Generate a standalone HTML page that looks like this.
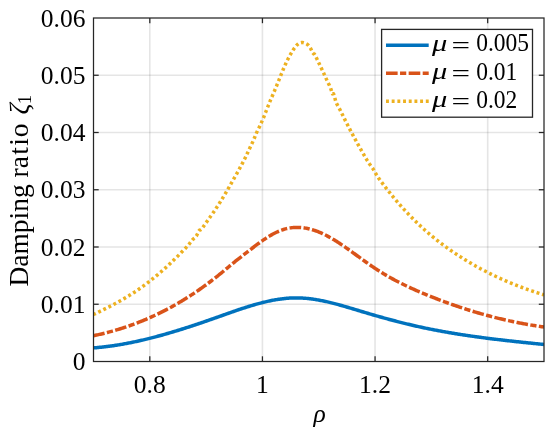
<!DOCTYPE html>
<html><head><meta charset="utf-8"><title>Damping ratio</title>
<style>
html,body{margin:0;padding:0;background:#fff;width:550px;height:433px;overflow:hidden}
svg{display:block}
.tk{font-family:"Liberation Serif",serif;font-size:25.5px;fill:#000}
</style></head><body>
<svg width="550" height="433" viewBox="0 0 550 433">
<rect width="550" height="433" fill="#fff"/>
<defs><clipPath id="ax"><rect x="93.50" y="18.00" width="450.50" height="343.50"/></clipPath></defs>
<g stroke="#262626" stroke-opacity="0.12" stroke-width="1.6" fill="none">
<line x1="149.81" y1="18.00" x2="149.81" y2="361.50"/>
<line x1="262.44" y1="18.00" x2="262.44" y2="361.50"/>
<line x1="375.06" y1="18.00" x2="375.06" y2="361.50"/>
<line x1="487.69" y1="18.00" x2="487.69" y2="361.50"/>
<line x1="93.50" y1="304.25" x2="544.00" y2="304.25"/>
<line x1="93.50" y1="247.00" x2="544.00" y2="247.00"/>
<line x1="93.50" y1="189.75" x2="544.00" y2="189.75"/>
<line x1="93.50" y1="132.50" x2="544.00" y2="132.50"/>
<line x1="93.50" y1="75.25" x2="544.00" y2="75.25"/>
</g>
<g clip-path="url(#ax)" fill="none" stroke-width="3.5" stroke-linejoin="round">
<path stroke="#0072BD" d="M93.50,347.88 L94.50,347.80 L95.50,347.72 L96.50,347.64 L97.50,347.55 L98.50,347.46 L99.50,347.36 L100.50,347.26 L101.50,347.16 L102.50,347.05 L103.50,346.94 L104.50,346.83 L105.50,346.71 L106.50,346.59 L107.50,346.47 L108.50,346.34 L109.50,346.21 L110.50,346.07 L111.50,345.93 L112.50,345.79 L113.50,345.65 L114.50,345.50 L115.50,345.35 L116.50,345.19 L117.50,345.03 L118.50,344.87 L119.50,344.71 L120.50,344.54 L121.50,344.37 L122.50,344.19 L123.50,344.02 L124.50,343.84 L125.50,343.65 L126.50,343.47 L127.50,343.28 L128.50,343.08 L129.50,342.89 L130.50,342.69 L131.50,342.49 L132.50,342.28 L133.50,342.08 L134.50,341.87 L135.50,341.65 L136.50,341.44 L137.50,341.22 L138.50,341.00 L139.50,340.77 L140.50,340.55 L141.50,340.32 L142.50,340.09 L143.50,339.85 L144.50,339.62 L145.50,339.38 L146.50,339.13 L147.50,338.89 L148.50,338.64 L149.50,338.39 L150.50,338.14 L151.50,337.89 L152.50,337.63 L153.50,337.37 L154.50,337.11 L155.50,336.85 L156.50,336.58 L157.50,336.31 L158.50,336.04 L159.50,335.77 L160.50,335.50 L161.50,335.22 L162.50,334.94 L163.50,334.66 L164.50,334.38 L165.50,334.09 L166.50,333.81 L167.50,333.52 L168.50,333.23 L169.50,332.93 L170.50,332.64 L171.50,332.34 L172.50,332.05 L173.50,331.75 L174.50,331.44 L175.50,331.14 L176.50,330.83 L177.50,330.53 L178.50,330.22 L179.50,329.91 L180.50,329.60 L181.50,329.28 L182.50,328.97 L183.50,328.65 L184.50,328.33 L185.50,328.01 L186.50,327.69 L187.50,327.37 L188.50,327.05 L189.50,326.72 L190.50,326.39 L191.50,326.07 L192.50,325.74 L193.50,325.41 L194.50,325.07 L195.50,324.74 L196.50,324.41 L197.50,324.07 L198.50,323.73 L199.50,323.40 L200.50,323.06 L201.50,322.72 L202.50,322.38 L203.50,322.03 L204.50,321.69 L205.50,321.35 L206.50,321.00 L207.50,320.66 L208.50,320.31 L209.50,319.96 L210.50,319.61 L211.50,319.26 L212.50,318.91 L213.50,318.56 L214.50,318.21 L215.50,317.86 L216.50,317.51 L217.50,317.15 L218.50,316.80 L219.50,316.44 L220.50,316.09 L221.50,315.73 L222.50,315.38 L223.50,315.02 L224.50,314.67 L225.50,314.31 L226.50,313.96 L227.50,313.60 L228.50,313.25 L229.50,312.90 L230.50,312.55 L231.50,312.20 L232.50,311.85 L233.50,311.50 L234.50,311.15 L235.50,310.81 L236.50,310.46 L237.50,310.12 L238.50,309.78 L239.50,309.45 L240.50,309.11 L241.50,308.78 L242.50,308.45 L243.50,308.12 L244.50,307.80 L245.50,307.47 L246.50,307.16 L247.50,306.84 L248.50,306.53 L249.50,306.22 L250.50,305.91 L251.50,305.61 L252.50,305.31 L253.50,305.02 L254.50,304.73 L255.50,304.44 L256.50,304.16 L257.50,303.88 L258.50,303.61 L259.50,303.34 L260.50,303.08 L261.50,302.82 L262.50,302.57 L263.50,302.32 L264.50,302.08 L265.50,301.84 L266.50,301.61 L267.50,301.38 L268.50,301.16 L269.50,300.95 L270.50,300.74 L271.50,300.54 L272.50,300.34 L273.50,300.15 L274.50,299.97 L275.50,299.80 L276.50,299.63 L277.50,299.47 L278.50,299.31 L279.50,299.16 L280.50,299.02 L281.50,298.89 L282.50,298.77 L283.50,298.65 L284.50,298.54 L285.50,298.44 L286.50,298.35 L287.50,298.26 L288.50,298.19 L289.50,298.12 L290.50,298.06 L291.50,298.01 L292.50,297.97 L293.50,297.94 L294.50,297.92 L295.50,297.91 L296.50,297.90 L297.50,297.91 L298.50,297.93 L299.50,297.95 L300.50,297.99 L301.50,298.03 L302.50,298.08 L303.50,298.15 L304.50,298.22 L305.50,298.30 L306.50,298.38 L307.50,298.48 L308.50,298.58 L309.50,298.70 L310.50,298.82 L311.50,298.94 L312.50,299.08 L313.50,299.22 L314.50,299.37 L315.50,299.53 L316.50,299.69 L317.50,299.86 L318.50,300.04 L319.50,300.22 L320.50,300.41 L321.50,300.60 L322.50,300.81 L323.50,301.01 L324.50,301.22 L325.50,301.44 L326.50,301.66 L327.50,301.89 L328.50,302.12 L329.50,302.36 L330.50,302.60 L331.50,302.85 L332.50,303.10 L333.50,303.35 L334.50,303.61 L335.50,303.87 L336.50,304.14 L337.50,304.41 L338.50,304.68 L339.50,304.95 L340.50,305.23 L341.50,305.51 L342.50,305.80 L343.50,306.08 L344.50,306.37 L345.50,306.66 L346.50,306.95 L347.50,307.24 L348.50,307.54 L349.50,307.84 L350.50,308.13 L351.50,308.43 L352.50,308.73 L353.50,309.03 L354.50,309.33 L355.50,309.64 L356.50,309.94 L357.50,310.24 L358.50,310.54 L359.50,310.84 L360.50,311.15 L361.50,311.45 L362.50,311.75 L363.50,312.05 L364.50,312.35 L365.50,312.64 L366.50,312.94 L367.50,313.24 L368.50,313.53 L369.50,313.83 L370.50,314.12 L371.50,314.41 L372.50,314.70 L373.50,314.99 L374.50,315.28 L375.50,315.57 L376.50,315.85 L377.50,316.14 L378.50,316.42 L379.50,316.71 L380.50,316.99 L381.50,317.27 L382.50,317.55 L383.50,317.83 L384.50,318.10 L385.50,318.38 L386.50,318.66 L387.50,318.93 L388.50,319.20 L389.50,319.47 L390.50,319.74 L391.50,320.01 L392.50,320.27 L393.50,320.54 L394.50,320.80 L395.50,321.06 L396.50,321.32 L397.50,321.58 L398.50,321.84 L399.50,322.09 L400.50,322.35 L401.50,322.60 L402.50,322.85 L403.50,323.10 L404.50,323.35 L405.50,323.59 L406.50,323.84 L407.50,324.08 L408.50,324.32 L409.50,324.56 L410.50,324.80 L411.50,325.03 L412.50,325.26 L413.50,325.50 L414.50,325.73 L415.50,325.95 L416.50,326.18 L417.50,326.40 L418.50,326.63 L419.50,326.85 L420.50,327.06 L421.50,327.28 L422.50,327.50 L423.50,327.71 L424.50,327.92 L425.50,328.13 L426.50,328.34 L427.50,328.54 L428.50,328.75 L429.50,328.95 L430.50,329.15 L431.50,329.35 L432.50,329.55 L433.50,329.74 L434.50,329.94 L435.50,330.13 L436.50,330.32 L437.50,330.51 L438.50,330.70 L439.50,330.89 L440.50,331.07 L441.50,331.25 L442.50,331.44 L443.50,331.62 L444.50,331.80 L445.50,331.97 L446.50,332.15 L447.50,332.32 L448.50,332.50 L449.50,332.67 L450.50,332.84 L451.50,333.01 L452.50,333.17 L453.50,333.34 L454.50,333.50 L455.50,333.67 L456.50,333.83 L457.50,333.99 L458.50,334.15 L459.50,334.31 L460.50,334.46 L461.50,334.62 L462.50,334.77 L463.50,334.93 L464.50,335.08 L465.50,335.23 L466.50,335.38 L467.50,335.53 L468.50,335.67 L469.50,335.82 L470.50,335.96 L471.50,336.11 L472.50,336.25 L473.50,336.39 L474.50,336.53 L475.50,336.67 L476.50,336.81 L477.50,336.95 L478.50,337.08 L479.50,337.22 L480.50,337.35 L481.50,337.49 L482.50,337.62 L483.50,337.75 L484.50,337.88 L485.50,338.01 L486.50,338.14 L487.50,338.27 L488.50,338.39 L489.50,338.52 L490.50,338.64 L491.50,338.77 L492.50,338.89 L493.50,339.01 L494.50,339.14 L495.50,339.26 L496.50,339.38 L497.50,339.50 L498.50,339.62 L499.50,339.73 L500.50,339.85 L501.50,339.97 L502.50,340.08 L503.50,340.20 L504.50,340.31 L505.50,340.43 L506.50,340.54 L507.50,340.65 L508.50,340.77 L509.50,340.88 L510.50,340.99 L511.50,341.10 L512.50,341.21 L513.50,341.32 L514.50,341.43 L515.50,341.54 L516.50,341.65 L517.50,341.75 L518.50,341.86 L519.50,341.97 L520.50,342.07 L521.50,342.18 L522.50,342.28 L523.50,342.39 L524.50,342.49 L525.50,342.60 L526.50,342.70 L527.50,342.80 L528.50,342.91 L529.50,343.01 L530.50,343.11 L531.50,343.22 L532.50,343.32 L533.50,343.42 L534.50,343.52 L535.50,343.62 L536.50,343.72 L537.50,343.83 L538.50,343.93 L539.50,344.03 L540.50,344.13 L541.50,344.23 L542.50,344.33 L543.50,344.43 L544.00,344.48"/>
<path stroke="#D95319" stroke-dasharray="11.63 2.41 6.21 2.41" stroke-dashoffset="0.28" d="M93.50,335.71 L94.50,335.50 L95.50,335.29 L96.50,335.07 L97.50,334.85 L98.50,334.63 L99.50,334.40 L100.50,334.17 L101.50,333.94 L102.50,333.70 L103.50,333.46 L104.50,333.21 L105.50,332.96 L106.50,332.71 L107.50,332.45 L108.50,332.18 L109.50,331.92 L110.50,331.65 L111.50,331.37 L112.50,331.10 L113.50,330.81 L114.50,330.53 L115.50,330.24 L116.50,329.94 L117.50,329.64 L118.50,329.34 L119.50,329.03 L120.50,328.72 L121.50,328.40 L122.50,328.09 L123.50,327.76 L124.50,327.43 L125.50,327.10 L126.50,326.76 L127.50,326.42 L128.50,326.08 L129.50,325.73 L130.50,325.37 L131.50,325.01 L132.50,324.65 L133.50,324.28 L134.50,323.91 L135.50,323.54 L136.50,323.16 L137.50,322.77 L138.50,322.38 L139.50,321.99 L140.50,321.59 L141.50,321.19 L142.50,320.78 L143.50,320.37 L144.50,319.95 L145.50,319.53 L146.50,319.10 L147.50,318.67 L148.50,318.24 L149.50,317.80 L150.50,317.35 L151.50,316.90 L152.50,316.45 L153.50,315.99 L154.50,315.53 L155.50,315.06 L156.50,314.59 L157.50,314.11 L158.50,313.63 L159.50,313.14 L160.50,312.65 L161.50,312.15 L162.50,311.65 L163.50,311.14 L164.50,310.63 L165.50,310.11 L166.50,309.59 L167.50,309.07 L168.50,308.54 L169.50,308.00 L170.50,307.46 L171.50,306.91 L172.50,306.36 L173.50,305.80 L174.50,305.24 L175.50,304.67 L176.50,304.10 L177.50,303.53 L178.50,302.94 L179.50,302.36 L180.50,301.76 L181.50,301.17 L182.50,300.56 L183.50,299.96 L184.50,299.34 L185.50,298.72 L186.50,298.10 L187.50,297.47 L188.50,296.84 L189.50,296.20 L190.50,295.55 L191.50,294.90 L192.50,294.25 L193.50,293.58 L194.50,292.92 L195.50,292.25 L196.50,291.57 L197.50,290.89 L198.50,290.20 L199.50,289.50 L200.50,288.80 L201.50,288.10 L202.50,287.39 L203.50,286.67 L204.50,285.95 L205.50,285.22 L206.50,284.49 L207.50,283.75 L208.50,283.01 L209.50,282.26 L210.50,281.50 L211.50,280.74 L212.50,279.98 L213.50,279.20 L214.50,278.43 L215.50,277.64 L216.50,276.85 L217.50,276.06 L218.50,275.25 L219.50,274.45 L220.50,273.63 L221.50,272.82 L222.50,271.99 L223.50,271.16 L224.50,270.33 L225.50,269.49 L226.50,268.65 L227.50,267.81 L228.50,266.97 L229.50,266.13 L230.50,265.30 L231.50,264.47 L232.50,263.65 L233.50,262.84 L234.50,262.03 L235.50,261.23 L236.50,260.44 L237.50,259.65 L238.50,258.87 L239.50,258.09 L240.50,257.31 L241.50,256.53 L242.50,255.76 L243.50,254.98 L244.50,254.21 L245.50,253.43 L246.50,252.66 L247.50,251.88 L248.50,251.10 L249.50,250.32 L250.50,249.55 L251.50,248.77 L252.50,248.00 L253.50,247.24 L254.50,246.47 L255.50,245.72 L256.50,244.97 L257.50,244.22 L258.50,243.48 L259.50,242.75 L260.50,242.03 L261.50,241.32 L262.50,240.62 L263.50,239.93 L264.50,239.25 L265.50,238.58 L266.50,237.93 L267.50,237.29 L268.50,236.66 L269.50,236.05 L270.50,235.45 L271.50,234.87 L272.50,234.31 L273.50,233.77 L274.50,233.24 L275.50,232.74 L276.50,232.25 L277.50,231.79 L278.50,231.34 L279.50,230.92 L280.50,230.52 L281.50,230.15 L282.50,229.80 L283.50,229.47 L284.50,229.17 L285.50,228.89 L286.50,228.64 L287.50,228.41 L288.50,228.21 L289.50,228.02 L290.50,227.87 L291.50,227.73 L292.50,227.62 L293.50,227.53 L294.50,227.46 L295.50,227.41 L296.50,227.39 L297.50,227.39 L298.50,227.41 L299.50,227.45 L300.50,227.51 L301.50,227.59 L302.50,227.69 L303.50,227.81 L304.50,227.95 L305.50,228.11 L306.50,228.29 L307.50,228.49 L308.50,228.71 L309.50,228.94 L310.50,229.20 L311.50,229.47 L312.50,229.76 L313.50,230.07 L314.50,230.39 L315.50,230.74 L316.50,231.10 L317.50,231.47 L318.50,231.86 L319.50,232.27 L320.50,232.70 L321.50,233.14 L322.50,233.59 L323.50,234.06 L324.50,234.55 L325.50,235.05 L326.50,235.56 L327.50,236.09 L328.50,236.62 L329.50,237.18 L330.50,237.74 L331.50,238.32 L332.50,238.90 L333.50,239.50 L334.50,240.11 L335.50,240.73 L336.50,241.35 L337.50,241.99 L338.50,242.64 L339.50,243.29 L340.50,243.95 L341.50,244.62 L342.50,245.29 L343.50,245.98 L344.50,246.66 L345.50,247.36 L346.50,248.06 L347.50,248.76 L348.50,249.47 L349.50,250.18 L350.50,250.90 L351.50,251.61 L352.50,252.33 L353.50,253.06 L354.50,253.78 L355.50,254.51 L356.50,255.24 L357.50,255.96 L358.50,256.69 L359.50,257.42 L360.50,258.15 L361.50,258.87 L362.50,259.59 L363.50,260.32 L364.50,261.03 L365.50,261.75 L366.50,262.46 L367.50,263.17 L368.50,263.88 L369.50,264.58 L370.50,265.27 L371.50,265.96 L372.50,266.64 L373.50,267.32 L374.50,267.99 L375.50,268.65 L376.50,269.31 L377.50,269.95 L378.50,270.59 L379.50,271.23 L380.50,271.85 L381.50,272.47 L382.50,273.09 L383.50,273.69 L384.50,274.29 L385.50,274.88 L386.50,275.47 L387.50,276.05 L388.50,276.62 L389.50,277.19 L390.50,277.75 L391.50,278.31 L392.50,278.86 L393.50,279.40 L394.50,279.94 L395.50,280.47 L396.50,281.00 L397.50,281.52 L398.50,282.03 L399.50,282.55 L400.50,283.05 L401.50,283.55 L402.50,284.05 L403.50,284.54 L404.50,285.03 L405.50,285.51 L406.50,285.99 L407.50,286.46 L408.50,286.93 L409.50,287.40 L410.50,287.86 L411.50,288.32 L412.50,288.77 L413.50,289.22 L414.50,289.67 L415.50,290.11 L416.50,290.55 L417.50,290.99 L418.50,291.42 L419.50,291.85 L420.50,292.27 L421.50,292.70 L422.50,293.12 L423.50,293.54 L424.50,293.95 L425.50,294.36 L426.50,294.77 L427.50,295.18 L428.50,295.59 L429.50,295.99 L430.50,296.39 L431.50,296.79 L432.50,297.19 L433.50,297.58 L434.50,297.98 L435.50,298.37 L436.50,298.75 L437.50,299.14 L438.50,299.52 L439.50,299.90 L440.50,300.28 L441.50,300.66 L442.50,301.03 L443.50,301.40 L444.50,301.77 L445.50,302.14 L446.50,302.51 L447.50,302.87 L448.50,303.23 L449.50,303.59 L450.50,303.95 L451.50,304.30 L452.50,304.65 L453.50,305.00 L454.50,305.35 L455.50,305.69 L456.50,306.03 L457.50,306.37 L458.50,306.71 L459.50,307.05 L460.50,307.38 L461.50,307.71 L462.50,308.04 L463.50,308.37 L464.50,308.69 L465.50,309.01 L466.50,309.33 L467.50,309.65 L468.50,309.97 L469.50,310.28 L470.50,310.59 L471.50,310.90 L472.50,311.20 L473.50,311.51 L474.50,311.81 L475.50,312.11 L476.50,312.40 L477.50,312.70 L478.50,312.99 L479.50,313.28 L480.50,313.57 L481.50,313.85 L482.50,314.13 L483.50,314.41 L484.50,314.69 L485.50,314.97 L486.50,315.24 L487.50,315.51 L488.50,315.78 L489.50,316.05 L490.50,316.31 L491.50,316.57 L492.50,316.83 L493.50,317.09 L494.50,317.34 L495.50,317.60 L496.50,317.85 L497.50,318.09 L498.50,318.34 L499.50,318.58 L500.50,318.82 L501.50,319.06 L502.50,319.30 L503.50,319.53 L504.50,319.76 L505.50,319.99 L506.50,320.22 L507.50,320.44 L508.50,320.66 L509.50,320.88 L510.50,321.10 L511.50,321.31 L512.50,321.53 L513.50,321.74 L514.50,321.94 L515.50,322.15 L516.50,322.35 L517.50,322.55 L518.50,322.75 L519.50,322.95 L520.50,323.14 L521.50,323.33 L522.50,323.52 L523.50,323.71 L524.50,323.89 L525.50,324.07 L526.50,324.25 L527.50,324.43 L528.50,324.60 L529.50,324.77 L530.50,324.94 L531.50,325.11 L532.50,325.27 L533.50,325.44 L534.50,325.60 L535.50,325.75 L536.50,325.91 L537.50,326.06 L538.50,326.21 L539.50,326.36 L540.50,326.51 L541.50,326.65 L542.50,326.79 L543.50,326.93 L544.00,327.00"/>
<path stroke="#EDB120" stroke-dasharray="2.9 2.79" stroke-dashoffset="0.4" d="M93.50,314.52 L94.50,314.04 L95.50,313.56 L96.50,313.07 L97.50,312.59 L98.50,312.10 L99.50,311.61 L100.50,311.12 L101.50,310.63 L102.50,310.13 L103.50,309.64 L104.50,309.14 L105.50,308.64 L106.50,308.13 L107.50,307.62 L108.50,307.11 L109.50,306.60 L110.50,306.08 L111.50,305.56 L112.50,305.04 L113.50,304.51 L114.50,303.98 L115.50,303.44 L116.50,302.90 L117.50,302.35 L118.50,301.80 L119.50,301.24 L120.50,300.68 L121.50,300.11 L122.50,299.54 L123.50,298.96 L124.50,298.38 L125.50,297.79 L126.50,297.19 L127.50,296.58 L128.50,295.97 L129.50,295.36 L130.50,294.73 L131.50,294.10 L132.50,293.46 L133.50,292.81 L134.50,292.16 L135.50,291.49 L136.50,290.82 L137.50,290.14 L138.50,289.45 L139.50,288.76 L140.50,288.05 L141.50,287.34 L142.50,286.62 L143.50,285.89 L144.50,285.15 L145.50,284.41 L146.50,283.66 L147.50,282.90 L148.50,282.13 L149.50,281.35 L150.50,280.57 L151.50,279.77 L152.50,278.97 L153.50,278.16 L154.50,277.35 L155.50,276.52 L156.50,275.69 L157.50,274.85 L158.50,274.00 L159.50,273.14 L160.50,272.28 L161.50,271.41 L162.50,270.53 L163.50,269.64 L164.50,268.74 L165.50,267.84 L166.50,266.92 L167.50,266.00 L168.50,265.08 L169.50,264.14 L170.50,263.20 L171.50,262.24 L172.50,261.29 L173.50,260.32 L174.50,259.35 L175.50,258.36 L176.50,257.38 L177.50,256.38 L178.50,255.38 L179.50,254.37 L180.50,253.35 L181.50,252.33 L182.50,251.30 L183.50,250.26 L184.50,249.22 L185.50,248.17 L186.50,247.11 L187.50,246.02 L188.50,244.88 L189.50,243.65 L190.50,242.32 L191.50,241.01 L192.50,239.82 L193.50,238.87 L194.50,238.11 L195.50,237.20 L196.50,235.84 L197.50,233.74 L198.50,231.44 L199.50,230.12 L200.50,229.81 L201.50,229.04 L202.50,227.84 L203.50,226.42 L204.50,224.96 L205.50,223.53 L206.50,222.13 L207.50,220.75 L208.50,219.37 L209.50,217.99 L210.50,216.60 L211.50,215.19 L212.50,213.75 L213.50,212.30 L214.50,210.82 L215.50,209.32 L216.50,207.81 L217.50,206.27 L218.50,204.71 L219.50,203.14 L220.50,201.55 L221.50,199.93 L222.50,198.30 L223.50,196.66 L224.50,194.99 L225.50,193.31 L226.50,191.61 L227.50,189.90 L228.50,188.17 L229.50,186.42 L230.50,184.67 L231.50,182.90 L232.50,181.13 L233.50,179.36 L234.50,177.59 L235.50,175.83 L236.50,174.06 L237.50,172.29 L238.50,170.50 L239.50,168.70 L240.50,166.88 L241.50,165.02 L242.50,163.13 L243.50,161.19 L244.50,159.21 L245.50,157.17 L246.50,155.09 L247.50,152.98 L248.50,150.85 L249.50,148.72 L250.50,146.62 L251.50,144.51 L252.50,142.37 L253.50,140.15 L254.50,137.81 L255.50,135.34 L256.50,132.89 L257.50,130.68 L258.50,128.66 L259.50,126.67 L260.50,124.58 L261.50,122.38 L262.50,120.08 L263.50,117.70 L264.50,115.24 L265.50,112.72 L266.50,110.17 L267.50,107.62 L268.50,105.09 L269.50,102.60 L270.50,100.17 L271.50,97.82 L272.50,95.51 L273.50,93.21 L274.50,90.88 L275.50,88.51 L276.50,86.08 L277.50,83.61 L278.50,81.11 L279.50,78.61 L280.50,76.11 L281.50,73.63 L282.50,71.19 L283.50,68.80 L284.50,66.47 L285.50,64.22 L286.50,62.05 L287.50,60.00 L288.50,58.06 L289.50,56.22 L290.50,54.45 L291.50,52.72 L292.50,51.04 L293.50,49.44 L294.50,47.96 L295.50,46.61 L296.50,45.44 L297.50,44.46 L298.50,43.69 L299.50,43.13 L300.50,42.75 L301.50,42.55 L302.50,42.52 L303.50,42.65 L304.50,42.93 L305.50,43.35 L306.50,43.89 L307.50,44.56 L308.50,45.41 L309.50,46.57 L310.50,48.19 L311.50,50.34 L312.50,52.49 L313.50,53.77 L314.50,54.19 L315.50,55.82 L316.50,58.02 L317.50,60.15 L318.50,62.26 L319.50,64.36 L320.50,66.47 L321.50,68.57 L322.50,70.69 L323.50,72.82 L324.50,74.97 L325.50,77.15 L326.50,79.35 L327.50,81.55 L328.50,83.60 L329.50,85.48 L330.50,87.70 L331.50,90.97 L332.50,93.86 L333.50,93.73 L334.50,96.43 L335.50,100.68 L336.50,103.37 L337.50,105.18 L338.50,106.95 L339.50,108.83 L340.50,110.80 L341.50,112.82 L342.50,114.85 L343.50,116.88 L344.50,118.88 L345.50,120.87 L346.50,122.85 L347.50,124.80 L348.50,126.74 L349.50,128.67 L350.50,130.58 L351.50,132.48 L352.50,134.36 L353.50,136.22 L354.50,138.08 L355.50,139.91 L356.50,141.74 L357.50,143.55 L358.50,145.35 L359.50,147.14 L360.50,148.92 L361.50,150.68 L362.50,152.43 L363.50,154.18 L364.50,155.91 L365.50,157.62 L366.50,159.29 L367.50,160.92 L368.50,162.48 L369.50,163.95 L370.50,165.34 L371.50,166.68 L372.50,168.07 L373.50,169.62 L374.50,171.34 L375.50,173.10 L376.50,174.81 L377.50,176.41 L378.50,177.92 L379.50,179.36 L380.50,180.73 L381.50,182.07 L382.50,183.37 L383.50,184.68 L384.50,185.97 L385.50,187.27 L386.50,188.56 L387.50,189.84 L388.50,191.11 L389.50,192.37 L390.50,193.62 L391.50,194.86 L392.50,196.08 L393.50,197.30 L394.50,198.50 L395.50,199.69 L396.50,200.87 L397.50,202.04 L398.50,203.20 L399.50,204.35 L400.50,205.49 L401.50,206.61 L402.50,207.73 L403.50,208.83 L404.50,209.93 L405.50,211.01 L406.50,212.08 L407.50,213.15 L408.50,214.20 L409.50,215.24 L410.50,216.27 L411.50,217.29 L412.50,218.31 L413.50,219.31 L414.50,220.30 L415.50,221.28 L416.50,222.26 L417.50,223.22 L418.50,224.17 L419.50,225.12 L420.50,226.05 L421.50,226.98 L422.50,227.90 L423.50,228.80 L424.50,229.70 L425.50,230.59 L426.50,231.47 L427.50,232.35 L428.50,233.21 L429.50,234.07 L430.50,234.91 L431.50,235.75 L432.50,236.58 L433.50,237.40 L434.50,238.22 L435.50,239.02 L436.50,239.82 L437.50,240.61 L438.50,241.39 L439.50,242.17 L440.50,242.94 L441.50,243.70 L442.50,244.45 L443.50,245.20 L444.50,245.94 L445.50,246.67 L446.50,247.39 L447.50,248.11 L448.50,248.83 L449.50,249.53 L450.50,250.23 L451.50,250.92 L452.50,251.61 L453.50,252.29 L454.50,252.97 L455.50,253.63 L456.50,254.30 L457.50,254.96 L458.50,255.61 L459.50,256.25 L460.50,256.90 L461.50,257.53 L462.50,258.16 L463.50,258.79 L464.50,259.41 L465.50,260.02 L466.50,260.63 L467.50,261.24 L468.50,261.84 L469.50,262.43 L470.50,263.02 L471.50,263.61 L472.50,264.19 L473.50,264.76 L474.50,265.33 L475.50,265.90 L476.50,266.46 L477.50,267.02 L478.50,267.57 L479.50,268.11 L480.50,268.66 L481.50,269.19 L482.50,269.73 L483.50,270.26 L484.50,270.78 L485.50,271.30 L486.50,271.81 L487.50,272.32 L488.50,272.83 L489.50,273.33 L490.50,273.83 L491.50,274.32 L492.50,274.81 L493.50,275.29 L494.50,275.77 L495.50,276.25 L496.50,276.72 L497.50,277.19 L498.50,277.65 L499.50,278.11 L500.50,278.56 L501.50,279.01 L502.50,279.46 L503.50,279.90 L504.50,280.34 L505.50,280.78 L506.50,281.21 L507.50,281.64 L508.50,282.06 L509.50,282.48 L510.50,282.90 L511.50,283.31 L512.50,283.72 L513.50,284.12 L514.50,284.52 L515.50,284.92 L516.50,285.32 L517.50,285.71 L518.50,286.09 L519.50,286.48 L520.50,286.86 L521.50,287.24 L522.50,287.61 L523.50,287.98 L524.50,288.35 L525.50,288.71 L526.50,289.07 L527.50,289.43 L528.50,289.78 L529.50,290.13 L530.50,290.48 L531.50,290.82 L532.50,291.16 L533.50,291.50 L534.50,291.84 L535.50,292.17 L536.50,292.50 L537.50,292.82 L538.50,293.15 L539.50,293.47 L540.50,293.78 L541.50,294.10 L542.50,294.41 L543.50,294.72 L544.00,294.87"/>
</g>
<g stroke="#262626" stroke-width="1.25" fill="none">
<rect x="93.50" y="18.00" width="450.50" height="343.50"/>
<line x1="149.81" y1="361.50" x2="149.81" y2="356.30"/>
<line x1="149.81" y1="18.00" x2="149.81" y2="23.20"/>
<line x1="262.44" y1="361.50" x2="262.44" y2="356.30"/>
<line x1="262.44" y1="18.00" x2="262.44" y2="23.20"/>
<line x1="375.06" y1="361.50" x2="375.06" y2="356.30"/>
<line x1="375.06" y1="18.00" x2="375.06" y2="23.20"/>
<line x1="487.69" y1="361.50" x2="487.69" y2="356.30"/>
<line x1="487.69" y1="18.00" x2="487.69" y2="23.20"/>
<line x1="93.50" y1="304.25" x2="98.70" y2="304.25"/>
<line x1="544.00" y1="304.25" x2="538.80" y2="304.25"/>
<line x1="93.50" y1="247.00" x2="98.70" y2="247.00"/>
<line x1="544.00" y1="247.00" x2="538.80" y2="247.00"/>
<line x1="93.50" y1="189.75" x2="98.70" y2="189.75"/>
<line x1="544.00" y1="189.75" x2="538.80" y2="189.75"/>
<line x1="93.50" y1="132.50" x2="98.70" y2="132.50"/>
<line x1="544.00" y1="132.50" x2="538.80" y2="132.50"/>
<line x1="93.50" y1="75.25" x2="98.70" y2="75.25"/>
<line x1="544.00" y1="75.25" x2="538.80" y2="75.25"/>
</g>
<g class="tk">
<text x="85.4" y="370.10" text-anchor="end">0</text>
<text x="85.4" y="312.85" text-anchor="end">0.01</text>
<text x="85.4" y="255.60" text-anchor="end">0.02</text>
<text x="85.4" y="198.35" text-anchor="end">0.03</text>
<text x="85.4" y="141.10" text-anchor="end">0.04</text>
<text x="85.4" y="83.85" text-anchor="end">0.05</text>
<text x="85.4" y="26.60" text-anchor="end">0.06</text>
<text x="149.81" y="392.6" text-anchor="middle">0.8</text>
<text x="262.44" y="392.6" text-anchor="middle">1</text>
<text x="375.06" y="392.6" text-anchor="middle">1.2</text>
<text x="487.69" y="392.6" text-anchor="middle">1.4</text>
</g>
<g font-family="Liberation Serif, serif" fill="#000">
<text transform="translate(27.5,286.6) rotate(-90)" font-size="27.5">Damping ra<tspan dx="1.3">t</tspan><tspan dx="1.4">i</tspan><tspan dx="0.7">o</tspan></text>
<text transform="translate(27.5,114.5) rotate(-90)" font-size="27.5" font-style="italic">ζ</text>
<text transform="translate(31,104.3) rotate(-90)" font-size="19">1</text>
<text x="319.7" y="421.9" font-size="25.5" font-style="italic" text-anchor="middle">ρ</text>
</g>
<g>
<rect x="381.6" y="29.4" width="150.9" height="87.8" fill="#fff" stroke="#262626" stroke-width="1.3"/>
<line x1="386" y1="45.3" x2="428.7" y2="45.3" stroke="#0072BD" stroke-width="3.5"/>
<line x1="386" y1="73.3" x2="428.7" y2="73.3" stroke="#D95319" stroke-width="3.5" stroke-dasharray="11.63 2.41 6.21 2.41"/>
<line x1="386" y1="101.2" x2="428.7" y2="101.2" stroke="#EDB120" stroke-width="3.5" stroke-dasharray="2.9 2.79"/>
<g font-family="Liberation Serif, serif" font-size="23.5" fill="#000">
<text transform="translate(432.1,50.8) scale(1.3,1)" font-style="italic">μ</text><text transform="translate(460.7,53.0) scale(1.4,1)" text-anchor="middle">=</text><text transform="translate(476.2,51.3) scale(1,1.07)">0.005</text>
<text transform="translate(432.1,79.0) scale(1.3,1)" font-style="italic">μ</text><text transform="translate(460.7,81.2) scale(1.4,1)" text-anchor="middle">=</text><text transform="translate(476.2,79.6) scale(1,1.07)">0.01</text>
<text transform="translate(432.1,107.2) scale(1.3,1)" font-style="italic">μ</text><text transform="translate(460.7,109.4) scale(1.4,1)" text-anchor="middle">=</text><text transform="translate(476.2,107.9) scale(1,1.07)">0.02</text>
</g>
</g>
</svg>
</body></html>
